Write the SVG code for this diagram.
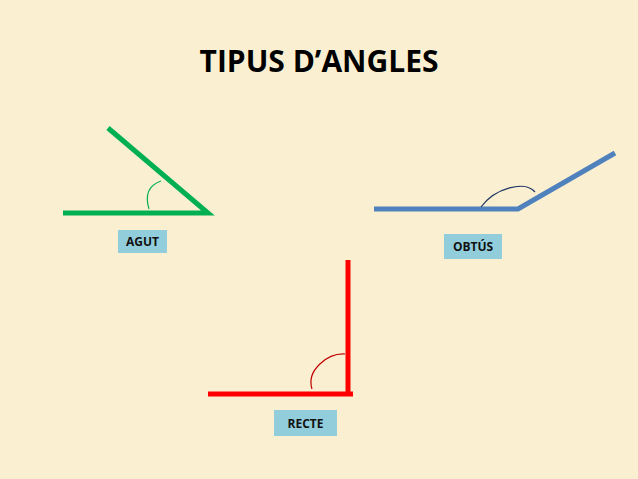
<svg xmlns="http://www.w3.org/2000/svg" width="638" height="479" viewBox="0 0 638 479">
<style>
.lbl{fill:#92cddc}
.t{font-family:"Open Sans","Liberation Sans",sans-serif;font-weight:bold;font-size:12px;fill:#111;text-anchor:middle}
.thin{fill:none;stroke-width:1.2}
</style>
<rect width="638" height="479" fill="#fbefd2"/>
<text x="319" y="72" font-family="'Open Sans','Liberation Sans',sans-serif" font-weight="bold" font-size="30" text-anchor="middle" fill="#000">TIPUS D’ANGLES</text>
<g id="agut">
<path d="M63 213H208L108 128" fill="none" stroke="#00b050" stroke-width="5"/>
<path class="thin" d="M149 209C145 196 147 186 161 181" stroke="#00b050"/>
<rect class="lbl" x="118" y="230" width="49" height="23"/>
<text class="t" x="142.5" y="246">AGUT</text>
</g>
<g id="obtus">
<path d="M374 209H518L615 153" fill="none" stroke="#4f81bd" stroke-width="5"/>
<path class="thin" d="M481 207C495 188 525 180 535 192" stroke="#1f3864"/>
<rect class="lbl" x="444" y="234" width="58" height="25"/>
<text class="t" x="473" y="251">OBTÚS</text>
</g>
<g id="recte">
<path d="M208 394H353M348 260V396" fill="none" stroke="#ff0000" stroke-width="5"/>
<path class="thin" d="M312 389C306 370 328 353 345 354" stroke="#c00000"/>
<rect class="lbl" x="274" y="410" width="63" height="26"/>
<text class="t" x="305.5" y="428">RECTE</text>
</g>
<g id="connectors"/>
</svg>
